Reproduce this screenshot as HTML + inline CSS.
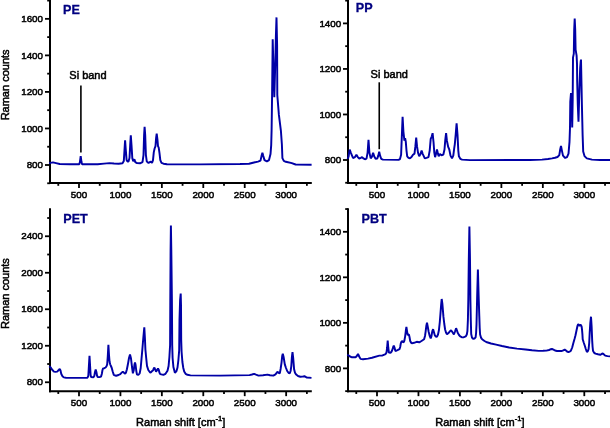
<!DOCTYPE html>
<html><head><meta charset="utf-8"><title>Raman spectra</title>
<style>
html,body{margin:0;padding:0;background:#fff;}
svg{display:block;}
text{font-family:"Liberation Sans",Arial,sans-serif;fill:#000;stroke:#000;stroke-width:0.5px;}
.tk{font-size:9.8px;}
.an{font-size:11px;}
.lb{font-size:12.6px;font-weight:bold;fill:#000080;stroke:#000080;stroke-width:0.3px;}
</style></head><body>
<svg width="610" height="428" viewBox="0 0 610 428">
<rect width="610" height="428" fill="#fff"/>
<line x1="50.0" y1="0" x2="50.0" y2="184.0" stroke="#000" stroke-width="2.0"/>
<line x1="49.0" y1="183.0" x2="311.8" y2="183.0" stroke="#000" stroke-width="2.0"/>
<line x1="79.00" y1="183.0" x2="79.00" y2="188.0" stroke="#000" stroke-width="1.8"/>
<line x1="120.43" y1="183.0" x2="120.43" y2="188.0" stroke="#000" stroke-width="1.8"/>
<line x1="161.86" y1="183.0" x2="161.86" y2="188.0" stroke="#000" stroke-width="1.8"/>
<line x1="203.29" y1="183.0" x2="203.29" y2="188.0" stroke="#000" stroke-width="1.8"/>
<line x1="244.72" y1="183.0" x2="244.72" y2="188.0" stroke="#000" stroke-width="1.8"/>
<line x1="286.15" y1="183.0" x2="286.15" y2="188.0" stroke="#000" stroke-width="1.8"/>
<line x1="58.28" y1="183.0" x2="58.28" y2="185.8" stroke="#000" stroke-width="1.8"/>
<line x1="99.72" y1="183.0" x2="99.72" y2="185.8" stroke="#000" stroke-width="1.8"/>
<line x1="141.15" y1="183.0" x2="141.15" y2="185.8" stroke="#000" stroke-width="1.8"/>
<line x1="182.57" y1="183.0" x2="182.57" y2="185.8" stroke="#000" stroke-width="1.8"/>
<line x1="224.00" y1="183.0" x2="224.00" y2="185.8" stroke="#000" stroke-width="1.8"/>
<line x1="265.44" y1="183.0" x2="265.44" y2="185.8" stroke="#000" stroke-width="1.8"/>
<line x1="306.87" y1="183.0" x2="306.87" y2="185.8" stroke="#000" stroke-width="1.8"/>
<line x1="45.0" y1="165.00" x2="50.0" y2="165.00" stroke="#000" stroke-width="1.8"/>
<line x1="45.0" y1="128.46" x2="50.0" y2="128.46" stroke="#000" stroke-width="1.8"/>
<line x1="45.0" y1="91.92" x2="50.0" y2="91.92" stroke="#000" stroke-width="1.8"/>
<line x1="45.0" y1="55.39" x2="50.0" y2="55.39" stroke="#000" stroke-width="1.8"/>
<line x1="45.0" y1="18.85" x2="50.0" y2="18.85" stroke="#000" stroke-width="1.8"/>
<line x1="47.2" y1="183.27" x2="50.0" y2="183.27" stroke="#000" stroke-width="1.8"/>
<line x1="47.2" y1="146.73" x2="50.0" y2="146.73" stroke="#000" stroke-width="1.8"/>
<line x1="47.2" y1="110.19" x2="50.0" y2="110.19" stroke="#000" stroke-width="1.8"/>
<line x1="47.2" y1="73.66" x2="50.0" y2="73.66" stroke="#000" stroke-width="1.8"/>
<line x1="47.2" y1="37.12" x2="50.0" y2="37.12" stroke="#000" stroke-width="1.8"/>
<line x1="47.2" y1="0.58" x2="50.0" y2="0.58" stroke="#000" stroke-width="1.8"/>
<text x="79.00" y="197.8" text-anchor="middle" class="tk">500</text>
<text x="120.43" y="197.8" text-anchor="middle" class="tk">1000</text>
<text x="161.86" y="197.8" text-anchor="middle" class="tk">1500</text>
<text x="203.29" y="197.8" text-anchor="middle" class="tk">2000</text>
<text x="244.72" y="197.8" text-anchor="middle" class="tk">2500</text>
<text x="286.15" y="197.8" text-anchor="middle" class="tk">3000</text>
<text x="43" y="168.20" text-anchor="end" class="tk">800</text>
<text x="43" y="131.66" text-anchor="end" class="tk">1000</text>
<text x="43" y="95.12" text-anchor="end" class="tk">1200</text>
<text x="43" y="58.59" text-anchor="end" class="tk">1400</text>
<text x="43" y="22.05" text-anchor="end" class="tk">1600</text>
<polyline points="49.20,163.00 50.50,162.90 53.00,162.40 56.00,163.10 59.70,164.00 70.00,164.30 79.30,164.30 79.90,162.10 80.70,156.10 81.50,162.10 82.10,164.30 97.70,164.30 104.00,163.60 109.50,163.10 114.00,163.50 118.70,163.70 122.50,163.30 123.80,161.10 124.50,150.10 125.10,140.30 125.80,150.10 126.60,160.10 127.50,161.60 128.50,161.60 129.50,158.10 130.20,145.10 130.80,135.30 131.50,145.10 132.30,158.10 133.20,161.10 134.40,159.40 135.30,162.10 137.00,163.10 140.00,163.30 142.50,162.10 143.50,155.10 144.10,135.10 144.60,126.70 145.20,135.10 145.90,155.10 146.80,161.60 148.50,162.90 150.80,161.60 152.00,162.90 153.00,160.10 153.80,152.10 154.60,148.50 155.50,146.10 156.10,138.10 156.70,133.70 157.40,139.10 158.00,146.10 158.70,147.60 159.50,153.10 160.30,160.10 161.50,162.90 163.50,163.70 167.00,164.30 200.00,164.40 240.00,164.00 249.00,163.80 253.00,162.70 258.00,161.60 260.50,160.60 261.50,156.10 262.40,152.70 263.30,156.10 264.50,160.10 266.90,161.40 269.00,160.10 270.50,154.10 271.20,145.10 271.60,130.10 272.10,94.10 272.70,39.20 273.40,66.10 274.30,97.10 275.20,66.10 275.90,36.10 276.50,17.40 277.10,45.10 277.30,95.10 278.90,114.90 280.90,130.80 281.90,144.70 282.40,158.10 283.80,160.90 285.80,161.80 291.80,163.10 295.60,164.50 311.60,164.70" fill="none" stroke="#0000a6" stroke-width="1.95" stroke-linejoin="bevel" stroke-linecap="butt"/>
<text x="63" y="14.4" class="lb">PE</text>
<text x="69.3" y="79.3" class="an">Si band</text>
<line x1="80.9" y1="85.4" x2="80.9" y2="152.5" stroke="#000" stroke-width="1.6"/>
<text transform="translate(8.9,84.9) rotate(-90)" text-anchor="middle" class="an">Raman counts</text>
<line x1="348.0" y1="0" x2="348.0" y2="184.0" stroke="#000" stroke-width="2.0"/>
<line x1="347.0" y1="183.0" x2="610" y2="183.0" stroke="#000" stroke-width="2.0"/>
<line x1="377.00" y1="183.0" x2="377.00" y2="188.0" stroke="#000" stroke-width="1.8"/>
<line x1="418.46" y1="183.0" x2="418.46" y2="188.0" stroke="#000" stroke-width="1.8"/>
<line x1="459.92" y1="183.0" x2="459.92" y2="188.0" stroke="#000" stroke-width="1.8"/>
<line x1="501.38" y1="183.0" x2="501.38" y2="188.0" stroke="#000" stroke-width="1.8"/>
<line x1="542.84" y1="183.0" x2="542.84" y2="188.0" stroke="#000" stroke-width="1.8"/>
<line x1="584.30" y1="183.0" x2="584.30" y2="188.0" stroke="#000" stroke-width="1.8"/>
<line x1="356.27" y1="183.0" x2="356.27" y2="185.8" stroke="#000" stroke-width="1.8"/>
<line x1="397.73" y1="183.0" x2="397.73" y2="185.8" stroke="#000" stroke-width="1.8"/>
<line x1="439.19" y1="183.0" x2="439.19" y2="185.8" stroke="#000" stroke-width="1.8"/>
<line x1="480.65" y1="183.0" x2="480.65" y2="185.8" stroke="#000" stroke-width="1.8"/>
<line x1="522.11" y1="183.0" x2="522.11" y2="185.8" stroke="#000" stroke-width="1.8"/>
<line x1="563.57" y1="183.0" x2="563.57" y2="185.8" stroke="#000" stroke-width="1.8"/>
<line x1="605.03" y1="183.0" x2="605.03" y2="185.8" stroke="#000" stroke-width="1.8"/>
<line x1="343.0" y1="160.00" x2="348.0" y2="160.00" stroke="#000" stroke-width="1.8"/>
<line x1="343.0" y1="114.47" x2="348.0" y2="114.47" stroke="#000" stroke-width="1.8"/>
<line x1="343.0" y1="68.93" x2="348.0" y2="68.93" stroke="#000" stroke-width="1.8"/>
<line x1="343.0" y1="23.40" x2="348.0" y2="23.40" stroke="#000" stroke-width="1.8"/>
<line x1="345.2" y1="182.77" x2="348.0" y2="182.77" stroke="#000" stroke-width="1.8"/>
<line x1="345.2" y1="137.23" x2="348.0" y2="137.23" stroke="#000" stroke-width="1.8"/>
<line x1="345.2" y1="91.70" x2="348.0" y2="91.70" stroke="#000" stroke-width="1.8"/>
<line x1="345.2" y1="46.16" x2="348.0" y2="46.16" stroke="#000" stroke-width="1.8"/>
<line x1="345.2" y1="0.63" x2="348.0" y2="0.63" stroke="#000" stroke-width="1.8"/>
<text x="377.00" y="197.8" text-anchor="middle" class="tk">500</text>
<text x="418.46" y="197.8" text-anchor="middle" class="tk">1000</text>
<text x="459.92" y="197.8" text-anchor="middle" class="tk">1500</text>
<text x="501.38" y="197.8" text-anchor="middle" class="tk">2000</text>
<text x="542.84" y="197.8" text-anchor="middle" class="tk">2500</text>
<text x="584.30" y="197.8" text-anchor="middle" class="tk">3000</text>
<text x="341.2" y="163.20" text-anchor="end" class="tk">800</text>
<text x="341.2" y="117.67" text-anchor="end" class="tk">1000</text>
<text x="341.2" y="72.13" text-anchor="end" class="tk">1200</text>
<text x="341.2" y="26.60" text-anchor="end" class="tk">1400</text>
<polyline points="347.60,158.80 348.60,156.60 349.20,152.10 349.70,149.72 350.80,152.60 353.00,158.00 355.00,157.10 356.40,154.70 357.80,157.10 359.20,158.50 360.80,157.90 362.10,157.20 363.50,158.40 364.90,159.30 366.50,158.60 367.60,152.60 368.50,139.82 369.40,152.60 370.70,158.30 372.00,156.60 373.10,152.70 374.30,156.60 375.60,158.80 377.20,158.60 378.30,155.60 379.20,151.70 380.10,155.60 381.20,158.80 383.00,159.60 398.50,159.90 400.00,159.10 401.10,154.70 401.90,134.60 402.60,116.80 403.40,131.60 404.40,140.70 405.10,138.30 405.80,141.80 406.50,150.60 407.20,156.30 408.50,157.80 410.00,158.30 411.50,157.10 413.00,154.70 414.50,153.60 415.40,146.20 416.20,137.60 417.00,146.20 418.00,152.60 419.20,156.30 420.50,154.10 421.60,150.60 422.80,154.10 424.80,158.30 426.50,157.90 428.50,157.20 429.70,150.60 430.70,138.90 431.70,136.60 432.60,133.20 433.50,141.80 434.30,152.60 435.10,157.20 436.10,153.60 437.00,149.39 437.90,153.60 438.70,156.30 440.00,153.90 441.50,155.40 443.30,154.70 444.50,149.50 445.30,139.60 446.10,133.20 446.90,140.70 448.20,146.97 449.30,149.50 450.50,155.60 452.00,158.30 453.30,155.60 454.20,148.40 454.80,144.33 455.70,134.60 456.60,123.40 457.50,134.60 458.30,150.60 458.90,156.30 460.30,158.80 462.10,159.60 470.00,160.10 530.00,160.00 542.00,159.60 548.00,159.00 552.00,158.40 555.00,157.80 557.50,157.00 559.30,155.10 560.20,149.50 561.00,145.98 561.90,150.60 563.00,155.60 565.20,158.00 567.00,157.10 568.50,153.60 569.50,141.80 570.00,127.60 570.30,101.60 571.00,93.10 571.60,103.60 572.20,127.60 572.70,99.60 573.00,57.60 573.80,53.60 574.20,29.60 574.70,18.50 575.20,29.60 575.60,49.60 576.60,55.60 577.00,63.60 577.20,81.60 577.80,104.60 578.50,121.60 579.10,99.60 579.60,83.60 580.20,67.60 580.70,61.60 581.00,59.60 581.20,69.60 581.50,84.60 581.90,104.60 582.30,121.60 582.60,134.60 583.20,151.60 584.50,156.10 586.80,158.40 592.00,159.60 600.00,160.00 610.00,160.10" fill="none" stroke="#0000a6" stroke-width="1.95" stroke-linejoin="bevel" stroke-linecap="butt"/>
<text x="355.8" y="12.4" class="lb">PP</text>
<text x="370.6" y="78.2" class="an">Si band</text>
<line x1="379.25" y1="82.3" x2="379.25" y2="149.2" stroke="#000" stroke-width="1.6"/>
<line x1="50.0" y1="208.2" x2="50.0" y2="392.15" stroke="#000" stroke-width="2.0"/>
<line x1="49.0" y1="391.15" x2="311.8" y2="391.15" stroke="#000" stroke-width="2.0"/>
<line x1="79.00" y1="391.15" x2="79.00" y2="396.15" stroke="#000" stroke-width="1.8"/>
<line x1="120.43" y1="391.15" x2="120.43" y2="396.15" stroke="#000" stroke-width="1.8"/>
<line x1="161.86" y1="391.15" x2="161.86" y2="396.15" stroke="#000" stroke-width="1.8"/>
<line x1="203.29" y1="391.15" x2="203.29" y2="396.15" stroke="#000" stroke-width="1.8"/>
<line x1="244.72" y1="391.15" x2="244.72" y2="396.15" stroke="#000" stroke-width="1.8"/>
<line x1="286.15" y1="391.15" x2="286.15" y2="396.15" stroke="#000" stroke-width="1.8"/>
<line x1="58.28" y1="391.15" x2="58.28" y2="393.95" stroke="#000" stroke-width="1.8"/>
<line x1="99.72" y1="391.15" x2="99.72" y2="393.95" stroke="#000" stroke-width="1.8"/>
<line x1="141.15" y1="391.15" x2="141.15" y2="393.95" stroke="#000" stroke-width="1.8"/>
<line x1="182.57" y1="391.15" x2="182.57" y2="393.95" stroke="#000" stroke-width="1.8"/>
<line x1="224.00" y1="391.15" x2="224.00" y2="393.95" stroke="#000" stroke-width="1.8"/>
<line x1="265.44" y1="391.15" x2="265.44" y2="393.95" stroke="#000" stroke-width="1.8"/>
<line x1="306.87" y1="391.15" x2="306.87" y2="393.95" stroke="#000" stroke-width="1.8"/>
<line x1="45.0" y1="382.26" x2="50.0" y2="382.26" stroke="#000" stroke-width="1.8"/>
<line x1="45.0" y1="345.76" x2="50.0" y2="345.76" stroke="#000" stroke-width="1.8"/>
<line x1="45.0" y1="309.26" x2="50.0" y2="309.26" stroke="#000" stroke-width="1.8"/>
<line x1="45.0" y1="272.76" x2="50.0" y2="272.76" stroke="#000" stroke-width="1.8"/>
<line x1="45.0" y1="236.26" x2="50.0" y2="236.26" stroke="#000" stroke-width="1.8"/>
<line x1="47.2" y1="364.01" x2="50.0" y2="364.01" stroke="#000" stroke-width="1.8"/>
<line x1="47.2" y1="327.51" x2="50.0" y2="327.51" stroke="#000" stroke-width="1.8"/>
<line x1="47.2" y1="291.01" x2="50.0" y2="291.01" stroke="#000" stroke-width="1.8"/>
<line x1="47.2" y1="254.51" x2="50.0" y2="254.51" stroke="#000" stroke-width="1.8"/>
<line x1="47.2" y1="218.01" x2="50.0" y2="218.01" stroke="#000" stroke-width="1.8"/>
<text x="79.00" y="406.3" text-anchor="middle" class="tk">500</text>
<text x="120.43" y="406.3" text-anchor="middle" class="tk">1000</text>
<text x="161.86" y="406.3" text-anchor="middle" class="tk">1500</text>
<text x="203.29" y="406.3" text-anchor="middle" class="tk">2000</text>
<text x="244.72" y="406.3" text-anchor="middle" class="tk">2500</text>
<text x="286.15" y="406.3" text-anchor="middle" class="tk">3000</text>
<text x="43" y="385.46" text-anchor="end" class="tk">800</text>
<text x="43" y="348.96" text-anchor="end" class="tk">1200</text>
<text x="43" y="312.46" text-anchor="end" class="tk">1600</text>
<text x="43" y="275.96" text-anchor="end" class="tk">2000</text>
<text x="43" y="239.46" text-anchor="end" class="tk">2400</text>
<polyline points="49.30,366.20 50.70,367.50 52.00,369.50 53.90,371.60 55.50,371.90 57.20,371.60 58.50,370.30 59.70,368.90 60.50,370.50 61.30,374.10 62.50,376.20 63.80,377.40 66.00,377.80 69.50,377.90 87.50,377.70 88.30,376.00 88.90,366.00 89.50,355.70 90.10,366.00 90.60,375.00 91.10,377.00 93.30,377.40 94.30,376.00 95.00,372.00 95.70,369.50 96.40,372.00 97.00,375.50 97.70,377.00 99.50,377.10 101.00,376.60 101.80,374.00 102.50,370.00 103.10,368.40 104.30,368.20 105.60,367.50 106.50,366.20 107.20,364.30 107.80,356.00 108.40,344.90 109.00,355.00 109.60,362.00 110.20,364.30 110.90,366.00 111.60,367.50 112.70,371.50 113.80,374.90 115.00,375.50 116.20,375.70 118.50,375.00 120.30,374.10 121.70,372.60 122.80,371.60 124.00,372.80 125.20,373.80 126.00,372.50 126.90,369.20 127.90,364.30 129.00,358.00 130.00,354.50 131.00,358.50 132.00,367.00 132.90,373.30 133.80,370.00 134.40,365.00 135.00,362.40 135.60,365.00 136.30,371.00 137.00,374.60 138.30,374.80 139.70,373.30 140.70,368.00 141.50,359.00 142.30,350.00 143.30,338.00 144.30,327.40 144.90,338.00 145.40,349.50 146.20,358.00 147.00,365.90 148.30,370.00 150.30,372.80 151.20,372.00 152.00,371.10 153.00,370.50 153.70,368.50 154.40,367.50 155.20,369.50 156.10,371.60 157.00,370.30 158.00,368.40 158.80,370.00 159.50,372.80 160.20,374.10 163.40,374.90 165.50,373.80 167.50,370.80 168.60,366.00 169.40,357.00 170.10,345.00 170.30,300.00 170.60,250.00 170.90,225.40 171.30,250.00 171.90,300.00 172.20,345.00 172.60,358.00 173.40,367.00 174.90,372.80 176.50,371.00 177.50,367.50 178.40,360.00 179.20,350.00 179.50,320.00 180.10,300.00 180.70,293.60 181.00,305.00 181.20,340.00 181.60,352.00 182.40,362.00 183.30,368.00 184.20,371.50 185.60,373.80 187.50,374.80 190.50,375.40 220.00,375.60 249.50,375.10 252.00,374.50 254.10,373.80 256.00,374.60 258.50,375.60 263.00,375.20 267.50,374.60 270.00,375.20 273.30,375.60 275.50,374.30 277.40,371.80 278.60,372.80 279.80,373.40 280.60,369.00 281.50,362.80 282.20,356.00 282.80,353.80 283.60,357.00 284.80,364.40 286.00,368.00 287.20,371.00 288.50,372.80 289.70,373.40 290.60,371.00 291.30,366.10 291.90,357.00 292.50,352.10 293.20,358.00 294.10,369.30 295.00,372.80 296.20,374.60 298.00,376.00 300.30,376.70 302.50,376.60 304.40,376.20 305.60,376.90 306.90,377.50 311.50,377.90" fill="none" stroke="#0000a6" stroke-width="1.95" stroke-linejoin="bevel" stroke-linecap="butt"/>
<text x="63.3" y="223" class="lb">PET</text>
<text transform="translate(9.2,293.6) rotate(-90)" text-anchor="middle" class="an">Raman counts</text>
<text x="136.1" y="425.8" class="an">Raman shift [cm<tspan dy="-4.6" font-size="7.6">-1</tspan><tspan dy="4.6">]</tspan></text>
<line x1="348.0" y1="208.2" x2="348.0" y2="392.15" stroke="#000" stroke-width="2.0"/>
<line x1="347.0" y1="391.15" x2="610" y2="391.15" stroke="#000" stroke-width="2.0"/>
<line x1="377.00" y1="391.15" x2="377.00" y2="396.15" stroke="#000" stroke-width="1.8"/>
<line x1="418.46" y1="391.15" x2="418.46" y2="396.15" stroke="#000" stroke-width="1.8"/>
<line x1="459.92" y1="391.15" x2="459.92" y2="396.15" stroke="#000" stroke-width="1.8"/>
<line x1="501.38" y1="391.15" x2="501.38" y2="396.15" stroke="#000" stroke-width="1.8"/>
<line x1="542.84" y1="391.15" x2="542.84" y2="396.15" stroke="#000" stroke-width="1.8"/>
<line x1="584.30" y1="391.15" x2="584.30" y2="396.15" stroke="#000" stroke-width="1.8"/>
<line x1="356.27" y1="391.15" x2="356.27" y2="393.95" stroke="#000" stroke-width="1.8"/>
<line x1="397.73" y1="391.15" x2="397.73" y2="393.95" stroke="#000" stroke-width="1.8"/>
<line x1="439.19" y1="391.15" x2="439.19" y2="393.95" stroke="#000" stroke-width="1.8"/>
<line x1="480.65" y1="391.15" x2="480.65" y2="393.95" stroke="#000" stroke-width="1.8"/>
<line x1="522.11" y1="391.15" x2="522.11" y2="393.95" stroke="#000" stroke-width="1.8"/>
<line x1="563.57" y1="391.15" x2="563.57" y2="393.95" stroke="#000" stroke-width="1.8"/>
<line x1="605.03" y1="391.15" x2="605.03" y2="393.95" stroke="#000" stroke-width="1.8"/>
<line x1="343.0" y1="368.38" x2="348.0" y2="368.38" stroke="#000" stroke-width="1.8"/>
<line x1="343.0" y1="322.85" x2="348.0" y2="322.85" stroke="#000" stroke-width="1.8"/>
<line x1="343.0" y1="277.33" x2="348.0" y2="277.33" stroke="#000" stroke-width="1.8"/>
<line x1="343.0" y1="231.80" x2="348.0" y2="231.80" stroke="#000" stroke-width="1.8"/>
<line x1="345.2" y1="391.14" x2="348.0" y2="391.14" stroke="#000" stroke-width="1.8"/>
<line x1="345.2" y1="345.62" x2="348.0" y2="345.62" stroke="#000" stroke-width="1.8"/>
<line x1="345.2" y1="300.09" x2="348.0" y2="300.09" stroke="#000" stroke-width="1.8"/>
<line x1="345.2" y1="254.56" x2="348.0" y2="254.56" stroke="#000" stroke-width="1.8"/>
<line x1="345.2" y1="209.04" x2="348.0" y2="209.04" stroke="#000" stroke-width="1.8"/>
<text x="377.00" y="406.3" text-anchor="middle" class="tk">500</text>
<text x="418.46" y="406.3" text-anchor="middle" class="tk">1000</text>
<text x="459.92" y="406.3" text-anchor="middle" class="tk">1500</text>
<text x="501.38" y="406.3" text-anchor="middle" class="tk">2000</text>
<text x="542.84" y="406.3" text-anchor="middle" class="tk">2500</text>
<text x="584.30" y="406.3" text-anchor="middle" class="tk">3000</text>
<text x="341.2" y="371.58" text-anchor="end" class="tk">800</text>
<text x="341.2" y="326.05" text-anchor="end" class="tk">1000</text>
<text x="341.2" y="280.53" text-anchor="end" class="tk">1200</text>
<text x="341.2" y="235.00" text-anchor="end" class="tk">1400</text>
<polyline points="347.20,354.80 349.00,355.60 350.00,356.50 351.50,357.20 355.60,357.20 356.80,356.00 358.00,353.90 359.20,356.50 360.50,358.90 363.00,359.30 368.00,358.60 372.00,357.70 379.30,355.60 382.00,355.60 385.60,354.10 386.50,352.50 387.10,348.00 387.70,340.70 388.30,348.00 388.90,352.50 390.50,352.80 391.60,351.50 392.60,349.20 393.20,347.00 393.80,345.60 394.50,347.50 395.40,351.10 397.50,350.20 399.50,349.20 400.20,347.00 400.80,343.40 401.40,341.80 402.00,341.00 402.80,341.80 403.60,342.30 404.40,340.50 405.20,336.10 405.80,331.00 406.40,327.00 407.00,331.00 407.70,335.20 408.30,334.60 408.90,334.40 409.50,337.00 410.20,341.00 411.00,342.50 411.80,343.40 414.00,342.80 416.70,341.80 419.20,342.30 421.50,341.00 424.10,339.30 425.00,336.00 425.70,331.10 426.30,326.00 427.00,322.60 427.80,327.00 428.70,332.00 429.70,336.00 430.70,338.50 431.40,336.50 432.00,332.80 432.60,330.30 433.10,329.20 433.90,332.00 434.80,335.20 435.80,336.60 436.90,336.90 438.00,334.50 438.90,330.30 439.80,322.00 440.50,313.10 441.20,304.00 441.70,299.00 442.40,304.00 443.40,316.40 444.30,324.00 445.10,329.50 446.00,332.50 447.00,334.40 448.70,332.80 450.00,331.20 451.10,330.30 452.00,331.50 452.80,332.80 453.90,334.40 455.00,331.50 456.10,328.20 457.00,330.50 457.70,332.80 459.00,335.00 460.20,336.40 461.80,337.20 463.40,337.40 465.70,336.40 466.80,334.50 467.40,331.10 467.90,320.00 468.30,300.00 468.80,260.00 469.40,226.40 470.00,260.00 470.40,300.00 470.80,320.00 471.20,334.00 472.00,337.60 473.10,338.90 474.50,338.50 475.60,337.40 476.10,333.00 476.50,324.60 477.20,295.00 477.90,269.50 478.60,295.00 479.30,316.40 479.70,328.00 480.10,334.50 481.00,337.60 482.10,339.30 484.50,341.00 487.00,342.30 491.00,343.50 496.10,344.60 502.00,346.00 509.20,347.50 517.00,348.60 525.60,349.50 532.00,350.20 538.70,350.90 543.00,350.80 546.40,350.60 549.00,350.00 550.50,349.30 552.00,349.00 553.50,349.60 555.00,350.50 557.00,351.00 561.90,351.00 563.30,350.30 564.70,349.60 566.00,350.50 567.00,351.50 568.40,352.00 569.80,351.60 570.90,350.70 572.20,347.50 573.30,343.30 574.50,339.00 575.50,335.20 576.50,330.50 577.40,326.20 578.20,324.20 579.00,325.20 579.60,325.80 580.30,325.00 581.00,325.00 581.60,326.50 582.00,329.40 582.40,334.00 582.70,339.30 583.70,342.50 584.80,345.80 585.80,349.00 586.90,352.00 587.80,351.20 588.60,349.10 589.20,343.00 589.70,332.70 590.30,323.00 591.00,316.70 591.60,326.00 592.20,340.90 592.60,347.00 593.00,350.70 594.00,352.60 595.40,353.60 598.00,354.30 600.30,354.80 601.60,354.00 602.80,353.50 604.00,354.50 605.20,355.60 607.50,356.10 610.00,356.40" fill="none" stroke="#0000a6" stroke-width="1.95" stroke-linejoin="bevel" stroke-linecap="butt"/>
<text x="361.5" y="222.9" class="lb">PBT</text>
<text x="435.2" y="426" class="an">Raman shift [cm<tspan dy="-4.6" font-size="7.6">-1</tspan><tspan dy="4.6">]</tspan></text>
</svg>
</body></html>
